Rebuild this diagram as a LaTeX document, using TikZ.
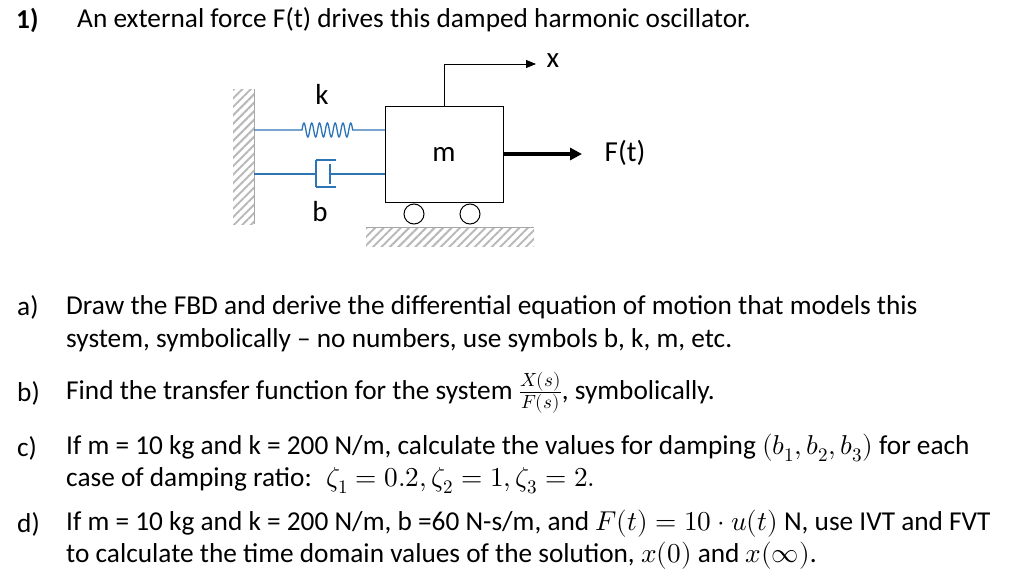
\documentclass[tikz,border=0pt]{standalone}
\usepackage{fontspec}
\usepackage{unicode-math}
\setmainfont{Carlito}
\setmathfont{Latin Modern Math}
\usetikzlibrary{patterns.meta,decorations.pathmorphing,arrows.meta}
\begin{document}
\begin{tikzpicture}[x=1pt,y=-1pt,
  txt/.style={anchor=west,inner sep=0pt,font=\fontsize{27.3}{30}\selectfont},
  blue line/.style={draw={rgb,255:red,46;green,117;blue,182},line width=1.3pt},
  hatch/.style={pattern={Lines[angle=45,distance=6pt,line width=2pt]},pattern color=gray!55}]
\useasboundingbox (0,0) rectangle (1024,586);
% wall and ground
\fill[hatch] (233,89) rectangle (254,224);
\draw[line width=1pt,gray!70] (254,89) -- (254,224);
\fill[hatch] (366,227) rectangle (534,246);
\draw[line width=1pt,gray!70] (366,227) -- (534,227);
% mass
\node[draw,line width=1pt,minimum width=118pt,minimum height=96pt,inner sep=0pt,font=\fontsize{29}{30}\selectfont] (m) at (444,154) {m};
\coordinate (sA) at (254,130); \coordinate (sB) at (385,130);
\draw[blue line] (sA) -- (302,130) decorate[decoration={coil,aspect=0,segment length=7.8pt,amplitude=7pt}]{-- (357,130)} -- (sB);
\coordinate (dA) at (254,174); \coordinate (dB) at (385,174);
\draw[blue line] (dA) -- (316,174) (316,160) -- (316,187) (316,160) -- (336,160) (316,187) -- (336,187);
\draw[blue line] (330,164) -- (330,184) (330,174) -- (dB);
\node[font=\fontsize{29}{30}\selectfont] (k) at (322,94) {k};
\node[font=\fontsize{29}{30}\selectfont] (b) at (320,212) {b};
% wheels
\draw[line width=1pt,fill=white] (414,214) circle (10);
\draw[line width=1pt,fill=white] (470,214) circle (10);
% x arrow
\coordinate (xt) at (444,106);
\node[font=\fontsize{29}{30}\selectfont] (x) at (553,61) {x};
\draw[line width=1pt,-{Triangle[length=10pt,width=8pt]}] (xt) -- (444,64) -- (536,64);
% force
\node[font=\fontsize{29}{30}\selectfont] (F) at (625,153) {F(t)};
\draw[line width=4pt,-{Triangle[length=12pt,width=12pt]}] (m.east) -- (582,154);
% text
\node[txt,font=\fontsize{27.3}{30}\selectfont\bfseries] (n1) at (16,20) {1)};
\node[txt] (t1) at (77,20) {An external force F(t) drives this damped harmonic oscillator.};
\node[txt] (la) at (17,307) {a)};
\node[txt] (ta1) at (66,307) {Draw the FBD and derive the differential equation of motion that models this};
\node[txt] (ta2) at (66,340) {system, symbolically -- no numbers, use symbols b, k, m, etc.};
\node[txt] (lb) at (17,393) {b)};
\node[txt] (tb) at (66,393) {Find the transfer function for the system $\frac{X(s)}{F(s)}$, symbolically.};
\node[txt] (lc) at (17,448) {c)};
\node[txt] (tc1) at (66,448) {If m = 10 kg and k = 200 N/m, calculate the values for damping $(b_1,b_2,b_3)$ for each};
\node[txt] (tc2) at (66,481) {case of damping ratio: \ $\zeta_1=0.2,\zeta_2=1,\zeta_3=2.$};
\node[txt] (ld) at (17,524) {d)};
\node[txt] (td1) at (66,524) {If m = 10 kg and k = 200 N/m, b =60 N-s/m, and $F(t)=10\cdot u(t)$ N, use IVT and FVT};
\node[txt] (td2) at (66,556) {to calculate the time domain values of the solution, $x(0)$ and $x(\infty)$.};
\end{tikzpicture}
\end{document}
